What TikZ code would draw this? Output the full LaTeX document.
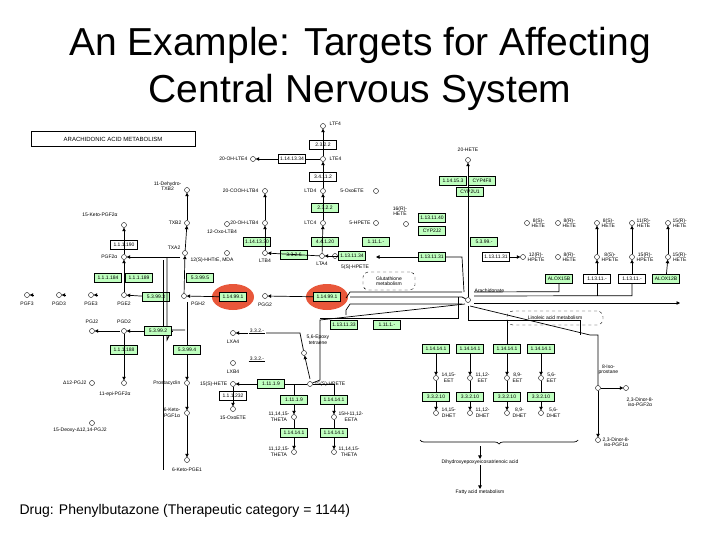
\documentclass[tikz,border=0pt]{standalone}
\usepackage{fontspec}
\setmainfont{Liberation Sans}
\usetikzlibrary{arrows.meta,shapes.geometric,decorations.pathreplacing}
\definecolor{kg}{HTML}{BFFFBF}
\definecolor{kred}{HTML}{E8573A}
\begin{document}
\begin{tikzpicture}[x=1pt,y=-1pt,
 lab/.style={font=\fontsize{5}{5.5}\selectfont,inner sep=0.5pt,align=center},
 g/.style={draw,fill=kg,font=\fontsize{5}{5}\selectfont,inner sep=1pt,minimum width=27,minimum height=9},
 w/.style={draw,fill=white,font=\fontsize{5}{5}\selectfont,inner sep=1pt,minimum width=27,minimum height=9},
 c/.style={circle,draw,fill=white,inner sep=0pt,minimum size=5},
 ar/.style={-{Triangle[length=3.5pt,width=3.5pt]},line width=0.7pt},
 ln/.style={line width=0.7pt},
 red/.style={ellipse,fill=kred,minimum width=42,minimum height=26,inner sep=0}]
\useasboundingbox (0,0) rectangle (720,540);
% titles
\node[font=\fontsize{39}{42}\selectfont] (t1) at (360,45) {An Example: Targets for Affecting};
\node[font=\fontsize{39}{42}\selectfont] (t2) at (360,92) {Central Nervous System};
\node[font=\fontsize{14}{16}\selectfont,anchor=west] (ft) at (16,511) {Drug: Phenylbutazone (Therapeutic category = 1144)};
\node[draw,line width=0.8pt,minimum width=164,minimum height=15,font=\fontsize{6}{6}\selectfont] (hdr) at (113,139) {ARACHIDONIC ACID METABOLISM};

% red targets
\node[red] (r1) at (233,297) {}; \node[g] (e1) at (233,297) {1.14.99.1};
\node[red] (r2) at (327,297) {}; \node[g] (e2) at (327,297) {1.14.99.1};

% main compounds
\node[c] (aa) at (468,300) {}; \node[lab,anchor=west] (aal) at (474,291) {Arachidonate};
\node[c] (pgg2) at (265,296) {}; \node[lab] (pgg2l) at (265,305) {PGG2};
\node[c] (pgh2) at (184,296) {}; \node[lab] (pgh2l) at (198,304) {PGH2};
\draw[ln] (aa) -- (462,297) -- (350,297);
\draw[ln] (462,292) -- (350,292) -- (346,298);
\draw[ln] (462,304) -- (350,304) -- (346,310) -- (346,315);
\draw[ln] (458,297) -- (458,318) -- (320,318);
\draw[ar] (e2) -- (pgg2);
\draw[ar] (e1) -- (pgh2);
\draw[ar] (aa) ++(6,3) -- (680,303) coordinate (aend);

% PGH2 left branch
\node[g] (b5395) at (200,278) {5.3.99.5};
\node[c] (txa2) at (185,253) {}; \node[lab,anchor=east] (txa2l) at (181,248) {TXA2};
\node[c] (txb2) at (187,223) {}; \node[lab,anchor=east] (txb2l) at (182,223) {TXB2};
\node[c] (dtxb2) at (187,190) {}; \node[lab,anchor=east] (dtxb2l) at (182,186) {11-Dehydro-\\TXB2};
\draw[ar] (pgh2) -- (txa2); \draw[ar] (txa2) -- (txb2); \draw[ar] (txb2) -- (dtxb2);
\node[c] (hht) at (227,253) {}; \node[lab] (hhtl) at (212,260) {12(S)-HHTrE, MDA};
\node[g] (b5393) at (156,297) {5.3.99.3};
\node[c] (pge2) at (124,295) {}; \node[lab] (pge2l) at (124,304) {PGE2};
\node[c] (pge3) at (91,295) {}; \node[lab] (pge3l) at (91,304) {PGE3};
\node[c] (pgd3) at (59,295) {}; \node[lab] (pgd3l) at (59,304) {PGD3};
\node[c] (pgf3) at (27,295) {}; \node[lab] (pgf3l) at (27,304) {PGF3};
\draw[ar] (b5393) -- (pge2);
\draw[ar] (97,295) -- (pge3); \draw[ar] (65,295) -- (pgd3); \draw[ar] (33,295) -- (pgf3);
\node[g] (b184) at (108,278) {1.1.1.184}; \node[g] (b189) at (139,278) {1.1.1.189};
\node[c] (pgf2a) at (124,257) {}; \node[lab,anchor=east] (pgf2al) at (118,257) {PGF2α};
\draw[ar] (pge2) -- (pgf2a);
\draw[ar] (180,257) -- (pgf2a);
\node[w] (b190) at (124,245) {1.1.1.190};
\node[c] (kpgf) at (124,225) {}; \node[lab] (kpgfl) at (100,215) {15-Keto-PGF2α};
\draw[ar] (pgf2a) -- (kpgf);
\draw[ln] (163,260) -- (163,470); \draw[ln] (167,258) -- (167,340) -- (172,330) -- (185,330);

% leukotrienes
\node[c] (lta4) at (322,256) {}; \node[lab] (lta4l) at (322,264) {LTA4};
\node[c] (ltb4) at (265,253) {}; \node[lab] (ltb4l) at (265,261) {LTB4};
\node[g] (b3326) at (294,255) {3.3.2.6};
\draw[ar] (lta4) -- (ltb4);
\node[g] (b1413) at (257,242) {1.14.13.30};
\node[c] (ohltb4) at (265,223) {}; \node[lab,anchor=east] (ohltb4l) at (259,223) {20-OH-LTB4};
\node[c] (cooh) at (265,191) {}; \node[lab,anchor=east] (coohl) at (259,191) {20-COOH-LTB4};
\draw[ar] (ltb4) -- (ohltb4); \draw[ar] (ohltb4) -- (cooh);
\node[c] (olt) at (227,224) {}; \node[lab] (oltl) at (222,232) {12-Oxo-LTB4};
\node[g] (b4420) at (325,242) {4.4.1.20};
\node[c] (ltc4) at (323,223) {}; \node[lab,anchor=east] (ltc4l) at (317,223) {LTC4};
\node[g] (b2322) at (325,208) {2.3.2.2};
\node[c] (ltd4) at (323,191) {}; \node[lab,anchor=east] (ltd4l) at (317,191) {LTD4};
\draw[ar] (lta4) -- (ltc4); \draw[ar] (ltc4) -- (ltd4);
\node[w] (b3411) at (323,177) {3.4.11.2};
\node[c] (lte4) at (323,159) {}; \node[lab,anchor=west] (lte4l) at (329,159) {LTE4};
\node[w] (b14r) at (292,159) {1.14.13.34};
\node[c] (ohlte4) at (253,159) {}; \node[lab,anchor=east] (ohlte4l) at (248,159) {20-OH-LTE4};
\draw[ar] (ltd4) -- (lte4); \draw[ar] (b14r) -- (ohlte4); \draw[ln] (lte4) -- (b14r);
\node[w] (b2322b) at (323,145) {2.3.2.2};
\node[c] (ltf4) at (323,126) {}; \node[lab,anchor=west] (ltf4l) at (329,124) {LTF4};
\draw[ar] (lte4) -- (ltf4);
\node[c] (oxo) at (376,191) {}; \node[lab] (oxol) at (352,191) {5-OxoETE};
\node[c] (hpete5) at (376,223) {}; \node[lab] (hpete5l) at (360,223) {5-HPETE};
\node[g] (b111) at (376,242) {1.11.1.-};
\node[c] (hete5) at (335,256) {};
\node[g] (b13134) at (352,256) {1.13.11.34};
\draw[ar] (b13134) -- (lta4);
\node[lab] (hpl) at (355,267) {5(S)-HPETE};
\node[rounded corners=5pt,draw,dashed,minimum width=52,minimum height=18,lab] (glu) at (389,281) {Glutathione\\metabolism};

% right of arachidonate
\node[g] (b158) at (453,181) {1.14.15.3}; \node[g] (cyp8) at (482,181) {CYP4F8};
\node[g] (cyp2) at (470,192) {CYP2U1};
\node[c] (hete20) at (468,160) {}; \node[lab] (hete20l) at (468,150) {20-HETE};
\draw[ar] (aa) -- (hete20);
\node[g] (b1314a) at (432,218) {1.13.11.40}; \node[g] (b1314b) at (432,231) {CYP2J2};
\node[c] (dih) at (406,224) {}; \node[lab] (dihl) at (400,211) {16(R)-\\HETE};
\node[g] (b5399) at (484,242) {5.3.99.-};
\node[g] (b13131) at (432,257) {1.13.11.31};
\draw[ln] (b13131) -- (462,257) -- (464,292);
\draw[ar] (b13131) -- (hpete5 |- 257,257);
\node[w] (b1311) at (496,257) {1.13.11.31};
\node[c] (hpete12) at (523,257) {}; \node[lab,anchor=west] (hpete12l) at (527,257) {12(R)-\\HPETE};
\draw[ar] (b1311) -- (hpete12);
\node[c] (k1) at (558,257) {}; \node[lab,anchor=west] (k1l) at (562,257) {8(R)-\\HETE};
\node[c] (k2) at (597,257) {}; \node[lab,anchor=west] (k2l) at (601,257) {8(S)-\\HPETE};
\node[c] (k3) at (632,257) {}; \node[lab,anchor=west] (k3l) at (636,257) {15(R)-\\HPETE};
\node[c] (k4) at (668,257) {}; \node[lab,anchor=west] (k4l) at (672,257) {15(R)-\\HETE};
\node[c] (u0) at (527,223) {}; \node[lab,anchor=west] (u0l) at (531,223) {8(S)-\\HETE};
\node[c] (u1) at (558,223) {}; \node[lab,anchor=west] (u1l) at (562,223) {8(R)-\\HETE};
\node[c] (u2) at (597,223) {}; \node[lab,anchor=west] (u2l) at (601,223) {8(S)-\\HETE};
\node[c] (u3) at (632,223) {}; \node[lab,anchor=west] (u3l) at (636,223) {11(R)-\\HETE};
\node[c] (u4) at (668,223) {}; \node[lab,anchor=west] (u4l) at (672,223) {15(R)-\\HETE};
\draw[ar] (k2) -- (u2); \draw[ar] (k3) -- (u3); \draw[ar] (k4) -- (u4);
\node[g] (x1) at (559,279) {ALOX15B}; \node[w] (x2) at (597,279) {1.13.11.-};
\node[w] (x3) at (632,279) {1.13.11.-}; \node[g] (x4) at (666,279) {ALOX12B};
\draw[ar] (x2) -- (k2); \draw[ar] (x3) -- (k3); \draw[ar] (x4) -- (k4);
\draw[ln] (x1.south) -- ++(0,8) -- (474,292);
\draw[ln] (x2.south) -- ++(0,12); \draw[ln] (x3.south) -- ++(0,12) -- (474,296);

% lower-left PG
\node[g] (b5392) at (158,331) {5.3.99.2};
\node[c] (pgd2) at (124,331) {}; \node[lab] (pgd2l) at (124,322) {PGD2};
\node[c] (pgj2) at (92,331) {}; \node[lab] (pgj2l) at (92,322) {PGJ2};
\draw[ar] (b5392) -- (pgd2); \draw[ar] (pgd2) ++(-4,0) -- (pgj2);
\draw[ln] (b5392) -- (172,331);
\node[g] (b188) at (124,350) {1.1.1.188};
\node[c] (epi) at (124,383) {}; \node[lab] (epil) at (115,394) {11-epi-PGF2α};
\draw[ar] (pgd2) -- (epi);
\node[c] (dpgj) at (92,383) {}; \node[lab,anchor=east] (dpgjl) at (87,383) {Δ12-PGJ2};
\node[c] (dpgj15) at (92,423) {}; \node[lab] (dpgj15l) at (80,430) {15-Deoxy-Δ12,14-PGJ2};
\node[g] (b5394) at (187,350) {5.3.99.4};
\node[c] (pgi2) at (187,383) {}; \node[lab,anchor=east] (pgi2l) at (181,383) {Prostacyclin};
\node[c] (kf1) at (187,413) {}; \node[lab,anchor=east] (kf1l) at (181,413) {6-Keto-\\PGF1α};
\node[c] (ke1) at (187,460) {}; \node[lab] (ke1l) at (187,470) {6-Keto-PGE1};
\draw[ln] (187,302) -- (b5394); \draw[ar] (b5394) -- (pgi2); \draw[ar] (pgi2) -- (kf1); \draw[ar] (kf1) -- (ke1);

% lipoxins / 15-HETE
\node[c] (lxa4) at (233,333) {}; \node[lab] (lxa4l) at (233,342) {LXA4};
\node[lab] (b33) at (257,333) {\underline{\smash{\ 3.3.2.-\ }}};
\draw[ar] (b33) -- (lxa4);
\node[c] (lxb4) at (233,363) {}; \node[lab] (lxb4l) at (233,372) {LXB4};
\node[lab] (b33b) at (257,361) {\underline{\smash{\ 3.3.2.-\ }}};
\node[c] (ep) at (304,353) {}; \node[lab,anchor=west] (epl) at (306,340) {5,6-Epoxy\\tetraene};
\draw[ln] (b33) -- (300,333) -- (ep);
\node[c] (hpete15) at (310,384) {}; \node[lab,anchor=west] (hpete15l) at (314,384) {15(S)-HPETE};
\node[c] (hete15) at (233,384) {}; \node[lab,anchor=east] (hete15l) at (228,384) {15(S)-HETE};
\node[g] (b1119) at (271,384) {1.11.1.9};
\draw[ln] (hpete15) -- (b1119); \draw[ar] (b1119) -- (hete15);
\draw[ar] (hpete15) ++(0,-5) -- (ep);
\node[w] (b232) at (233,396) {1.1.1.232};
\node[c] (oxo15) at (233,409) {}; \node[lab] (oxo15l) at (233,418) {15-OxoETE};
\draw[ar] (hete15) -- (oxo15);
\node[g] (b13133) at (344,325) {1.13.11.33}; \node[g] (b11) at (387,325) {1.11.1.-};
\draw[ln] (aa) ++(-3,4) -- (320,320) -- (320,380) -- (hpete15);
\node[g] (c1) at (294,400) {1.11.1.9}; \node[g] (c2) at (334,400) {1.14.14.1};
\node[c] (hx1) at (294,417) {}; \node[lab,anchor=east] (hx1l) at (290,417) {11,14,15-\\THETA};
\node[c] (hx2) at (334,417) {}; \node[lab,anchor=west] (hx2l) at (338,417) {15H-11,12-\\EETA};
\draw[ar] (c1) -- (hx1); \draw[ar] (c2) -- (hx2);
\node[g] (c3) at (294,433) {1.14.14.1}; \node[g] (c4) at (334,433) {1.14.14.1};
\node[c] (hy1) at (294,452) {}; \node[lab,anchor=east] (hy1l) at (290,452) {11,12,15-\\THETA};
\node[c] (hy2) at (334,452) {}; \node[lab,anchor=west] (hy2l) at (338,452) {11,14,15-\\THETA};
\draw[ar] (hx1) -- (c3) -- (hy1); \draw[ar] (hx2) -- (c4) -- (hy2);
\draw[ln] (hpete15) -- (294,384) -- (c1); \draw[ln] (hpete15) -- (334,384) -- (c2);

% EET section
\foreach \i/\x in {1/436,2/470,3/507,4/541}{
 \node[g] (ta\i) at (\x,349) {1.14.14.1};
 \node[c] (ee\i) at (\x,378) {};
 \node[g] (tb\i) at (\x,397) {3.3.2.10};
 \node[c] (dh\i) at (\x,413) {};
 \draw[ar] (ta\i) -- (ee\i); \draw[ar] (ee\i) -- (tb\i) -- (dh\i);
}
\node[lab,anchor=west] (eel1) at (441,378) {14,15-\\EET};
\node[lab,anchor=west] (eel2) at (475,378) {11,12-\\EET};
\node[lab,anchor=west] (eel3) at (512,378) {8,9-\\EET};
\node[lab,anchor=west] (eel4) at (546,378) {5,6-\\EET};
\node[lab,anchor=west] (dhl1) at (441,413) {14,15-\\DHET};
\node[lab,anchor=west] (dhl2) at (475,413) {11,12-\\DHET};
\node[lab,anchor=west] (dhl3) at (512,413) {8,9-\\DHET};
\node[lab,anchor=west] (dhl4) at (546,413) {5,6-\\DHET};
\draw[ln] (aa) ++(0,6) -- (468,320) -- (580,320) -- (580,335);
\draw[ln] (507,320) -- (ta3);
\draw[decorate,decoration={brace,mirror,amplitude=4pt},line width=0.7pt] (420,440) -- (578,440) coordinate[midway] (brc);
\node[lab] (dhea) at (480,462) {Dihydroxyepoxyeicosatrienoic acid};
\node[lab] (fam) at (480,492) {Fatty acid metabolism};
\draw[ar] (480,446) -- (dhea); \draw[ar] (dhea) -- (fam);
\node[rounded corners=6pt,draw,dashed,lab,minimum width=96,minimum height=14] (lin) at (555,318) {Linoleic acid metabolism};

% isoprostanes
\node[c] (iso) at (598,388) {}; \node[lab,anchor=west] (isol) at (598,370) {8-Iso-\\prostane};
\node[c] (iso2) at (626,388) {}; \node[lab] (iso2l) at (640,402) {2,3-Dinor-8-\\iso-PGF2α};
\node[c] (iso3) at (598,440) {}; \node[lab,anchor=west] (iso3l) at (602,442) {2,3-Dinor-8-\\iso-PGF1α};
\draw[ar] (iso) -- (iso2); \draw[ar] (iso) -- (iso3);
\draw[ln] (aa) ++(2,6) -- (590,335) -- (598,335) -- (iso);
\end{tikzpicture}
\end{document}
